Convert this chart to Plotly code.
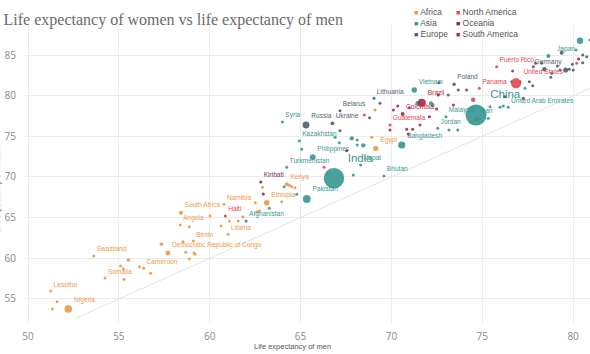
import math
import plotly.graph_objects as go

# ---------------- data ----------------
# Africa
africa_names = ["", "Sierra Leone", "Nigeria", "", "", "Lesotho", "Swaziland", "", "", "",
                "Somalia", "", "", "Cameroon", "", "", "Democratic Republic of Congo", "", "", "",
                "", "", "Benin", "Angola", "", "South Africa", "", "Namibia", "", "",
                "", "", "", "", "Liberia", "", "Ethiopia", "", "", "Kenya",
                "", "", "", "Egypt", "", "", "", ""]
africa_men = [49.56, 50.81, 52.22, 51.34, 51.60, 51.25, 53.62, 55.52, 55.10, 55.25,
              54.24, 55.28, 56.13, 56.37, 56.75, 57.34, 57.70, 58.53, 58.68, 58.88,
              59.14, 59.19, 59.10, 58.38, 58.88, 58.42, 60.02, 60.79, 62.51, 61.08,
              61.57, 61.82, 62.62, 62.73, 61.02, 60.62, 63.14, 63.96, 62.90, 64.24,
              64.38, 64.51, 64.69, 69.14, 69.10, 68.92, 74.38, 74.52]
africa_women = [53.23, 52.00, 53.76, 53.76, 54.66, 55.97, 60.28, 59.78, 59.05, 58.71,
                57.57, 57.41, 58.96, 58.76, 58.15, 61.72, 60.65, 62.04, 60.73, 59.91,
                60.65, 60.49, 62.12, 64.09, 63.88, 65.60, 65.20, 66.64, 66.83, 64.58,
                64.58, 65.11, 65.73, 65.81, 62.95, 63.97, 66.83, 66.96, 68.73, 69.10,
                68.97, 68.80, 68.68, 73.52, 78.23, 74.88, 76.67, 77.00]
africa_pop = [5, 7, 182, 14, 23, 2, 1.3, 40, 5, 5,
              11, 5, 3, 23, 10, 40, 77, 5, 10, 5,
              5, 5, 10, 25, 5, 55, 5, 2.4, 5, 5,
              5, 5, 5, 5, 4.5, 5, 99, 5, 5, 46,
              5, 5, 5, 92, 3, 5, 40, 10]

# Asia
asia_names = ["Afghanistan", "", "", "", "Pakistan", "Turkmenistan", "India", "Nepal", "Bhutan", "",
              "Syria", "Kazakhstan", "", "Philippines", "", "", "", "", "", "",
              "Bangladesh", "Vietnam", "", "", "", "Malaysia", "Jordan", "", "", "China",
              "Iran", "United Arab Emirates", "", "", "", "", "", "", "Japan", "", ""]
asia_men = [62.00, 63.28, 64.09, 64.79, 65.34, 64.24, 66.84, 68.31, 69.59, 67.90,
            64.00, 64.93, 65.06, 65.67, 67.82, 68.12, 68.12, 68.45, 66.90, 67.13,
            70.57, 71.26, 71.45, 72.18, 72.27, 73.00, 72.55, 73.17, 73.65, 74.66,
            74.71, 76.43, 75.98, 76.16, 75.43, 75.33, 77.35, 78.64, 80.38, 80.16, 80.93]
asia_women = [64.58, 66.14, 68.80, 67.87, 67.29, 71.19, 69.83, 71.47, 70.12, 70.24,
              76.76, 74.42, 73.40, 72.45, 74.75, 74.55, 73.93, 73.89, 74.88, 74.21,
              73.93, 80.70, 79.06, 79.06, 78.85, 77.41, 75.98, 75.78, 75.78, 77.62,
              77.13, 78.57, 78.57, 78.73, 78.64, 77.21, 80.90, 84.88, 86.76, 85.60, 86.85]
asia_pop = [33, 5, 27, 5, 190, 5, 1310, 28, 0.8, 5,
            18, 17, 5, 100, 60, 5, 5, 60, 5, 5,
            160, 92, 68, 50, 50, 30, 9, 5, 5, 1375,
            79, 9, 5, 5, 5, 5, 5, 50, 127, 5, 7]

# Europe
europe_names = ["Russia", "Ukraine", "Belarus", "Lithuania", "", "", "", "Poland", "", "",
                "", "", "", "", "", "", "Germany", "", "", "",
                "", "", "", "", "", "", "", "", "", "",
                "", "", "", "", ""]
europe_men = [65.30, 66.75, 67.17, 69.04, 69.37, 67.17, 68.80, 73.45, 72.62, 73.13,
              73.68, 74.14, 76.67, 77.94, 78.27, 78.42, 79.59, 79.37, 80.53, 80.75,
              80.53, 79.96, 79.79, 79.28, 80.01, 78.82, 78.77, 79.13, 77.81, 77.08,
              76.62, 77.59, 77.78, 77.26, 76.25]
europe_women = [76.39, 76.60, 78.15, 79.67, 79.06, 75.69, 77.29, 81.40, 81.60, 80.08,
                80.70, 80.70, 83.03, 83.98, 83.98, 83.24, 83.15, 85.28, 85.00, 84.79,
                84.05, 83.86, 83.24, 83.15, 83.15, 82.75, 82.26, 83.65, 83.56, 81.72,
                81.72, 81.72, 81.22, 79.67, 79.87]
europe_pop = [144, 45, 9.5, 3, 3, 4, 5, 38, 3, 5,
              5, 5, 5, 5, 5, 64, 81, 47, 10, 10,
              8, 5, 5, 11, 5, 5, 5, 5, 10, 5,
              5, 5, 5, 5, 5]

# North America
namerica_names = ["Haiti", "Guatemala", "", "", "Panama", "Puerto Rico", "United States", "", ""]
namerica_men = [60.86, 69.92, 68.51, 66.29, 74.84, 75.79, 76.86, 80.20, 74.50]
namerica_women = [65.20, 76.39, 77.62, 71.19, 80.90, 83.56, 81.52, 83.98, 79.50]
namerica_pop = [10, 16, 3, 3, 4, 3.5, 321, 10, 60]

# Oceania
oceania_names = ["Kiribati", "", "", ""]
oceania_men = [62.81, 62.95, 67.54, 80.30]
oceania_women = [69.38, 67.90, 73.23, 84.50]
oceania_pop = [0.1, 8, 1, 24]

# South America
samerica_names = ["Brazil", "Colombia", "", "", "", "", "", "", "", "",
                  "", "", "", ""]
samerica_men = [71.67, 70.62, 70.11, 70.35, 70.99, 72.09, 72.49, 73.41, 71.17, 70.84,
                70.93, 69.92, 72.58, 71.57]
samerica_women = [79.13, 77.74, 78.24, 78.73, 78.52, 77.41, 78.36, 78.85, 75.86, 75.86,
                  75.28, 75.78, 80.08, 76.39]
samerica_pop = [205, 48, 5, 5, 5, 31, 5, 5, 5, 10, 5, 5, 5, 5]

continents = ["Africa", "Asia", "Europe", "North America", "Oceania", "South America"]
x_ticks = [50, 55, 60, 65, 70, 75, 80]
y_ticks = [55, 60, 65, 70, 75, 80, 85]
parity_line = [52.6, 82.0]

# ---------------- styling ----------------
colors = {
    "Africa": "#ec9a4a",
    "Asia": "#3b9891",
    "Europe": "#535f70",
    "North America": "#e8464f",
    "Oceania": "#7a2d63",
    "South America": "#b1283f",
}
label_pos_overrides = {"Japan": "bottom left", "Germany": "top left"}
series = {
    "Africa": (africa_names, africa_men, africa_women, africa_pop),
    "Asia": (asia_names, asia_men, asia_women, asia_pop),
    "Europe": (europe_names, europe_men, europe_women, europe_pop),
    "North America": (namerica_names, namerica_men, namerica_women, namerica_pop),
    "Oceania": (oceania_names, oceania_men, oceania_women, oceania_pop),
    "South America": (samerica_names, samerica_men, samerica_women, samerica_pop),
}
max_pop = max(asia_pop)
MAXD, MIND = 21.0, 3.0

# plot-area geometry in pixels (for placing annotations)
L, R, T, B = 25, 590, 25, 323


def px_x(p):
    return (p - L) / (R - L)


def px_y(p):
    return (B - p) / (B - T)


def diam(p):
    return max(MIND, MAXD * math.sqrt(p / max_pop))


def label_size(p):
    return 11.5 if p > 1000 else 6.6


fig = go.Figure()
fig.add_trace(go.Scatter(x=parity_line, y=parity_line, mode="lines",
                         line=dict(color="#e2e2e2", width=1), hoverinfo="skip",
                         showlegend=False))

for c in continents:
    names, men, women, pop = series[c]
    fig.add_trace(go.Scatter(
        x=men, y=women, mode="markers+text", text=names,
        textposition=[label_pos_overrides.get(n, "top right") for n in names],
        textfont=dict(family="Liberation Sans", color=colors[c],
                      size=[label_size(p) for p in pop]),
        marker=dict(size=[diam(p) for p in pop], color=colors[c], opacity=0.92,
                    line=dict(width=0)),
        name=c, showlegend=False, cliponaxis=False,
    ))


# legend built from annotations (two columns)
def legend_block(items):
    return "<br>".join(
        f"<span style='color:{colors[i]};font-size:7px'>■</span> {i}" for i in items)


fig.add_annotation(xref="paper", yref="paper", x=px_x(412), y=px_y(5),
                   xanchor="left", yanchor="top", align="left", showarrow=False,
                   text=legend_block(continents[:3]),
                   font=dict(family="Liberation Sans", size=8.5, color="#555"))
fig.add_annotation(xref="paper", yref="paper", x=px_x(454), y=px_y(5),
                   xanchor="left", yanchor="top", align="left", showarrow=False,
                   text=legend_block(continents[3:]),
                   font=dict(family="Liberation Sans", size=8.5, color="#555"))

# axis titles
fig.add_annotation(xref="paper", yref="paper", x=px_x(292), y=px_y(346),
                   xanchor="center", yanchor="middle", showarrow=False,
                   text="Life expectancy of men",
                   font=dict(family="Liberation Sans", size=7.5, color="#555"))
fig.add_annotation(xref="paper", yref="paper", x=px_x(-2), y=px_y(190),
                   xanchor="center", yanchor="middle", showarrow=False, textangle=-90,
                   text="Life expectancy of women",
                   font=dict(family="Liberation Sans", size=7.5, color="#555"))

fig.update_layout(
    width=590, height=354,
    margin=dict(l=L, r=590 - R, t=T, b=354 - B),
    paper_bgcolor="white", plot_bgcolor="white",
    title=dict(text="Life expectancy of women vs life expectancy of men",
               font=dict(family="Liberation Serif", size=16, color="#6a6a6a"),
               x=0.006, xanchor="left", xref="container",
               y=1 - 19 / 354, yanchor="middle", yref="container"),
    xaxis=dict(range=[49.835, 80.93], tickvals=x_ticks, showgrid=True,
               gridcolor="#ececec", gridwidth=1, zeroline=False, showline=False,
               ticks="outside", ticklen=4, tickcolor="rgba(0,0,0,0)", automargin=False,
               tickfont=dict(family="Open Sans", size=10, color="#8a8a8a")),
    yaxis=dict(range=[52.04, 88.69], tickvals=y_ticks, showgrid=True,
               gridcolor="#ececec", gridwidth=1, zeroline=False, showline=False,
               ticks="outside", ticklen=6, tickcolor="rgba(0,0,0,0)", automargin=False,
               tickfont=dict(family="Open Sans", size=10, color="#8a8a8a")),
)

fig.write_html("out.html")
